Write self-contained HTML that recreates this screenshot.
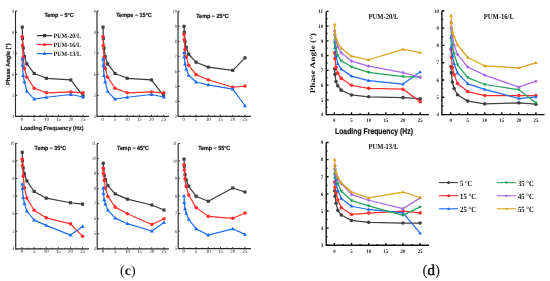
<!DOCTYPE html><html><head><meta charset="utf-8"><style>html,body{margin:0;padding:0;background:#fff;}svg{display:block;will-change:transform;}</style></head><body><svg width="550" height="281" viewBox="0 0 550 281" font-family='"Liberation Serif", serif' fill="#111" text-rendering="geometricPrecision">
<rect width="550" height="281" fill="#fff"/>
<path d="M15.5 11.1V116.4H89" fill="none" stroke="#2a2a2a" stroke-width="1.15"/>
<path d="M15.5 116.4h1.6M15.5 95.34h1.6M15.5 74.28h1.6M15.5 53.22h1.6M15.5 32.16h1.6M15.5 11.1h1.6M22 116.4v-1.6M28.1 116.4v-1M34.2 116.4v-1.6M40.3 116.4v-1M46.4 116.4v-1.6M52.5 116.4v-1M58.6 116.4v-1.6M64.7 116.4v-1M70.8 116.4v-1.6M76.9 116.4v-1M83 116.4v-1.6" fill="none" stroke="#2a2a2a" stroke-width="1.0"/>
<text x="14.1" y="118.05" text-anchor="end" font-size="5.0" font-weight="normal" textLength="1.9" lengthAdjust="spacingAndGlyphs">4</text>
<text x="14.1" y="96.99" text-anchor="end" font-size="5.0" font-weight="normal" textLength="1.9" lengthAdjust="spacingAndGlyphs">5</text>
<text x="14.1" y="75.93" text-anchor="end" font-size="5.0" font-weight="normal" textLength="1.9" lengthAdjust="spacingAndGlyphs">6</text>
<text x="14.1" y="54.87" text-anchor="end" font-size="5.0" font-weight="normal" textLength="1.9" lengthAdjust="spacingAndGlyphs">7</text>
<text x="14.1" y="33.81" text-anchor="end" font-size="5.0" font-weight="normal" textLength="1.9" lengthAdjust="spacingAndGlyphs">8</text>
<text x="14.1" y="12.75" text-anchor="end" font-size="5.0" font-weight="normal" textLength="1.9" lengthAdjust="spacingAndGlyphs">9</text>
<text x="22" y="121" text-anchor="middle" font-size="5.0" font-weight="normal" textLength="2.4" lengthAdjust="spacingAndGlyphs">0</text>
<text x="34.2" y="121" text-anchor="middle" font-size="5.0" font-weight="normal" textLength="2.4" lengthAdjust="spacingAndGlyphs">5</text>
<text x="46.4" y="121" text-anchor="middle" font-size="5.0" font-weight="normal" textLength="4.8" lengthAdjust="spacingAndGlyphs">10</text>
<text x="58.6" y="121" text-anchor="middle" font-size="5.0" font-weight="normal" textLength="4.8" lengthAdjust="spacingAndGlyphs">15</text>
<text x="70.8" y="121" text-anchor="middle" font-size="5.0" font-weight="normal" textLength="4.8" lengthAdjust="spacingAndGlyphs">20</text>
<text x="83" y="121" text-anchor="middle" font-size="5.0" font-weight="normal" textLength="4.8" lengthAdjust="spacingAndGlyphs">25</text>
<path d="M22.24 27.11L22.49 38.48L23.22 47.95L24.44 56.59L26.88 63.96L34.2 73.44L46.4 78.28L70.8 79.97L83 95.76" fill="none" stroke="#3a3a3a" stroke-width="1.2" stroke-linejoin="round"/>
<rect x="20.69" y="25.56" width="3.1" height="3.1" fill="#3a3a3a"/>
<rect x="20.94" y="36.93" width="3.1" height="3.1" fill="#3a3a3a"/>
<rect x="21.67" y="46.41" width="3.1" height="3.1" fill="#3a3a3a"/>
<rect x="22.89" y="55.04" width="3.1" height="3.1" fill="#3a3a3a"/>
<rect x="25.33" y="62.41" width="3.1" height="3.1" fill="#3a3a3a"/>
<rect x="32.65" y="71.89" width="3.1" height="3.1" fill="#3a3a3a"/>
<rect x="44.85" y="76.73" width="3.1" height="3.1" fill="#3a3a3a"/>
<rect x="69.25" y="78.42" width="3.1" height="3.1" fill="#3a3a3a"/>
<rect x="81.45" y="94.21" width="3.1" height="3.1" fill="#3a3a3a"/>
<path d="M22.24 36.58L22.49 45.64L23.22 57.43L24.44 68.38L26.88 77.23L34.2 88.18L46.4 92.81L70.8 91.97L83 92.81" fill="none" stroke="#ff2e2e" stroke-width="1.2" stroke-linejoin="round"/>
<circle cx="22.24" cy="36.58" r="1.8" fill="#ff2e2e"/>
<circle cx="22.49" cy="45.64" r="1.8" fill="#ff2e2e"/>
<circle cx="23.22" cy="57.43" r="1.8" fill="#ff2e2e"/>
<circle cx="24.44" cy="68.38" r="1.8" fill="#ff2e2e"/>
<circle cx="26.88" cy="77.23" r="1.8" fill="#ff2e2e"/>
<circle cx="34.2" cy="88.18" r="1.8" fill="#ff2e2e"/>
<circle cx="46.4" cy="92.81" r="1.8" fill="#ff2e2e"/>
<circle cx="70.8" cy="91.97" r="1.8" fill="#ff2e2e"/>
<circle cx="83" cy="92.81" r="1.8" fill="#ff2e2e"/>
<path d="M22.24 59.12L22.49 65.43L23.22 75.54L24.44 81.86L26.88 91.34L34.2 99.13L46.4 97.24L70.8 94.5L83 97.02" fill="none" stroke="#1d6cf0" stroke-width="1.2" stroke-linejoin="round"/>
<path d="M22.24 56.96L24.24 60.56L20.24 60.56Z" fill="#1d6cf0"/>
<path d="M22.49 63.27L24.49 66.87L20.49 66.87Z" fill="#1d6cf0"/>
<path d="M23.22 73.38L25.22 76.98L21.22 76.98Z" fill="#1d6cf0"/>
<path d="M24.44 79.7L26.44 83.3L22.44 83.3Z" fill="#1d6cf0"/>
<path d="M26.88 89.18L28.88 92.78L24.88 92.78Z" fill="#1d6cf0"/>
<path d="M34.2 96.97L36.2 100.57L32.2 100.57Z" fill="#1d6cf0"/>
<path d="M46.4 95.08L48.4 98.68L44.4 98.68Z" fill="#1d6cf0"/>
<path d="M70.8 92.34L72.8 95.94L68.8 95.94Z" fill="#1d6cf0"/>
<path d="M83 94.86L85 98.46L81 98.46Z" fill="#1d6cf0"/>
<text x="44.4" y="17.3" font-family='"Liberation Sans", sans-serif' font-size="5.9" font-weight="bold" stroke="#111" stroke-width="0.18" textLength="29.2" lengthAdjust="spacingAndGlyphs">Temp − 5°C</text>
<path d="M97 11.1V116.4H169" fill="none" stroke="#2a2a2a" stroke-width="1.15"/>
<path d="M97 116.4h1.6M97 95.34h1.6M97 74.28h1.6M97 53.22h1.6M97 32.16h1.6M97 11.1h1.6M102.8 116.4v-1.6M108.89 116.4v-1M114.98 116.4v-1.6M121.07 116.4v-1M127.16 116.4v-1.6M133.25 116.4v-1M139.34 116.4v-1.6M145.43 116.4v-1M151.52 116.4v-1.6M157.61 116.4v-1M163.7 116.4v-1.6" fill="none" stroke="#2a2a2a" stroke-width="1.0"/>
<text x="95.6" y="118.05" text-anchor="end" font-size="5.0" font-weight="normal" textLength="1.9" lengthAdjust="spacingAndGlyphs">4</text>
<text x="95.6" y="96.99" text-anchor="end" font-size="5.0" font-weight="normal" textLength="1.9" lengthAdjust="spacingAndGlyphs">5</text>
<text x="95.6" y="75.93" text-anchor="end" font-size="5.0" font-weight="normal" textLength="1.9" lengthAdjust="spacingAndGlyphs">6</text>
<text x="95.6" y="54.87" text-anchor="end" font-size="5.0" font-weight="normal" textLength="1.9" lengthAdjust="spacingAndGlyphs">7</text>
<text x="95.6" y="33.81" text-anchor="end" font-size="5.0" font-weight="normal" textLength="1.9" lengthAdjust="spacingAndGlyphs">8</text>
<text x="95.6" y="12.75" text-anchor="end" font-size="5.0" font-weight="normal" textLength="1.9" lengthAdjust="spacingAndGlyphs">9</text>
<text x="102.8" y="121" text-anchor="middle" font-size="5.0" font-weight="normal" textLength="2.4" lengthAdjust="spacingAndGlyphs">0</text>
<text x="114.98" y="121" text-anchor="middle" font-size="5.0" font-weight="normal" textLength="2.4" lengthAdjust="spacingAndGlyphs">5</text>
<text x="127.16" y="121" text-anchor="middle" font-size="5.0" font-weight="normal" textLength="4.8" lengthAdjust="spacingAndGlyphs">10</text>
<text x="139.34" y="121" text-anchor="middle" font-size="5.0" font-weight="normal" textLength="4.8" lengthAdjust="spacingAndGlyphs">15</text>
<text x="151.52" y="121" text-anchor="middle" font-size="5.0" font-weight="normal" textLength="4.8" lengthAdjust="spacingAndGlyphs">20</text>
<text x="163.7" y="121" text-anchor="middle" font-size="5.0" font-weight="normal" textLength="4.8" lengthAdjust="spacingAndGlyphs">25</text>
<path d="M103.04 27.11L103.29 38.48L104.02 47.95L105.24 56.59L107.67 63.96L114.98 73.44L127.16 78.28L151.52 79.97L163.7 95.76" fill="none" stroke="#3a3a3a" stroke-width="1.2" stroke-linejoin="round"/>
<rect x="101.49" y="25.56" width="3.1" height="3.1" fill="#3a3a3a"/>
<rect x="101.74" y="36.93" width="3.1" height="3.1" fill="#3a3a3a"/>
<rect x="102.47" y="46.41" width="3.1" height="3.1" fill="#3a3a3a"/>
<rect x="103.69" y="55.04" width="3.1" height="3.1" fill="#3a3a3a"/>
<rect x="106.12" y="62.41" width="3.1" height="3.1" fill="#3a3a3a"/>
<rect x="113.43" y="71.89" width="3.1" height="3.1" fill="#3a3a3a"/>
<rect x="125.61" y="76.73" width="3.1" height="3.1" fill="#3a3a3a"/>
<rect x="149.97" y="78.42" width="3.1" height="3.1" fill="#3a3a3a"/>
<rect x="162.15" y="94.21" width="3.1" height="3.1" fill="#3a3a3a"/>
<path d="M103.04 36.58L103.29 45.64L104.02 57.43L105.24 68.38L107.67 77.23L114.98 88.18L127.16 92.81L151.52 91.97L163.7 92.81" fill="none" stroke="#ff2e2e" stroke-width="1.2" stroke-linejoin="round"/>
<circle cx="103.04" cy="36.58" r="1.8" fill="#ff2e2e"/>
<circle cx="103.29" cy="45.64" r="1.8" fill="#ff2e2e"/>
<circle cx="104.02" cy="57.43" r="1.8" fill="#ff2e2e"/>
<circle cx="105.24" cy="68.38" r="1.8" fill="#ff2e2e"/>
<circle cx="107.67" cy="77.23" r="1.8" fill="#ff2e2e"/>
<circle cx="114.98" cy="88.18" r="1.8" fill="#ff2e2e"/>
<circle cx="127.16" cy="92.81" r="1.8" fill="#ff2e2e"/>
<circle cx="151.52" cy="91.97" r="1.8" fill="#ff2e2e"/>
<circle cx="163.7" cy="92.81" r="1.8" fill="#ff2e2e"/>
<path d="M103.04 59.12L103.29 65.43L104.02 75.54L105.24 81.86L107.67 91.34L114.98 99.13L127.16 97.24L151.52 94.5L163.7 97.02" fill="none" stroke="#1d6cf0" stroke-width="1.2" stroke-linejoin="round"/>
<path d="M103.04 56.96L105.04 60.56L101.04 60.56Z" fill="#1d6cf0"/>
<path d="M103.29 63.27L105.29 66.87L101.29 66.87Z" fill="#1d6cf0"/>
<path d="M104.02 73.38L106.02 76.98L102.02 76.98Z" fill="#1d6cf0"/>
<path d="M105.24 79.7L107.24 83.3L103.24 83.3Z" fill="#1d6cf0"/>
<path d="M107.67 89.18L109.67 92.78L105.67 92.78Z" fill="#1d6cf0"/>
<path d="M114.98 96.97L116.98 100.57L112.98 100.57Z" fill="#1d6cf0"/>
<path d="M127.16 95.08L129.16 98.68L125.16 98.68Z" fill="#1d6cf0"/>
<path d="M151.52 92.34L153.52 95.94L149.52 95.94Z" fill="#1d6cf0"/>
<path d="M163.7 94.86L165.7 98.46L161.7 98.46Z" fill="#1d6cf0"/>
<text x="116.2" y="17.3" font-family='"Liberation Sans", sans-serif' font-size="5.9" font-weight="bold" stroke="#111" stroke-width="0.18" textLength="35.6" lengthAdjust="spacingAndGlyphs">Tempe − 15°C</text>
<path d="M178 11.3V116.4H251" fill="none" stroke="#2a2a2a" stroke-width="1.15"/>
<path d="M178 116.4h1.6M178 101.39h1.6M178 86.37h1.6M178 71.36h1.6M178 56.34h1.6M178 41.33h1.6M178 26.31h1.6M178 11.3h1.6M183.8 116.4v-1.6M189.92 116.4v-1M196.04 116.4v-1.6M202.16 116.4v-1M208.28 116.4v-1.6M214.4 116.4v-1M220.52 116.4v-1.6M226.64 116.4v-1M232.76 116.4v-1.6M238.88 116.4v-1M245 116.4v-1.6" fill="none" stroke="#2a2a2a" stroke-width="1.0"/>
<text x="176.6" y="118.05" text-anchor="end" font-size="5.0" font-weight="normal" textLength="1.9" lengthAdjust="spacingAndGlyphs">3</text>
<text x="176.6" y="103.04" text-anchor="end" font-size="5.0" font-weight="normal" textLength="1.9" lengthAdjust="spacingAndGlyphs">4</text>
<text x="176.6" y="88.02" text-anchor="end" font-size="5.0" font-weight="normal" textLength="1.9" lengthAdjust="spacingAndGlyphs">5</text>
<text x="176.6" y="73.01" text-anchor="end" font-size="5.0" font-weight="normal" textLength="1.9" lengthAdjust="spacingAndGlyphs">6</text>
<text x="176.6" y="57.99" text-anchor="end" font-size="5.0" font-weight="normal" textLength="1.9" lengthAdjust="spacingAndGlyphs">7</text>
<text x="176.6" y="42.98" text-anchor="end" font-size="5.0" font-weight="normal" textLength="1.9" lengthAdjust="spacingAndGlyphs">8</text>
<text x="176.6" y="27.96" text-anchor="end" font-size="5.0" font-weight="normal" textLength="1.9" lengthAdjust="spacingAndGlyphs">9</text>
<text x="176.6" y="12.95" text-anchor="end" font-size="5.0" font-weight="normal" textLength="3.8" lengthAdjust="spacingAndGlyphs">10</text>
<text x="183.8" y="121" text-anchor="middle" font-size="5.0" font-weight="normal" textLength="2.4" lengthAdjust="spacingAndGlyphs">0</text>
<text x="196.04" y="121" text-anchor="middle" font-size="5.0" font-weight="normal" textLength="2.4" lengthAdjust="spacingAndGlyphs">5</text>
<text x="208.28" y="121" text-anchor="middle" font-size="5.0" font-weight="normal" textLength="4.8" lengthAdjust="spacingAndGlyphs">10</text>
<text x="220.52" y="121" text-anchor="middle" font-size="5.0" font-weight="normal" textLength="4.8" lengthAdjust="spacingAndGlyphs">15</text>
<text x="232.76" y="121" text-anchor="middle" font-size="5.0" font-weight="normal" textLength="4.8" lengthAdjust="spacingAndGlyphs">20</text>
<text x="245" y="121" text-anchor="middle" font-size="5.0" font-weight="normal" textLength="4.8" lengthAdjust="spacingAndGlyphs">25</text>
<path d="M184.04 26.31L184.29 32.32L185.02 41.33L186.25 47.48L188.7 54.24L196.04 62.2L208.28 67.15L232.76 70.31L245 57.84" fill="none" stroke="#3a3a3a" stroke-width="1.2" stroke-linejoin="round"/>
<rect x="182.49" y="24.76" width="3.1" height="3.1" fill="#3a3a3a"/>
<rect x="182.74" y="30.77" width="3.1" height="3.1" fill="#3a3a3a"/>
<rect x="183.47" y="39.78" width="3.1" height="3.1" fill="#3a3a3a"/>
<rect x="184.7" y="45.93" width="3.1" height="3.1" fill="#3a3a3a"/>
<rect x="187.15" y="52.69" width="3.1" height="3.1" fill="#3a3a3a"/>
<rect x="194.49" y="60.65" width="3.1" height="3.1" fill="#3a3a3a"/>
<rect x="206.73" y="65.6" width="3.1" height="3.1" fill="#3a3a3a"/>
<rect x="231.21" y="68.76" width="3.1" height="3.1" fill="#3a3a3a"/>
<rect x="243.45" y="56.29" width="3.1" height="3.1" fill="#3a3a3a"/>
<path d="M184.04 34.27L184.29 39.83L185.02 49.59L186.25 56.94L188.7 65.35L196.04 74.66L208.28 79.77L232.76 87.27L245 86.07" fill="none" stroke="#ff2e2e" stroke-width="1.2" stroke-linejoin="round"/>
<circle cx="184.04" cy="34.27" r="1.8" fill="#ff2e2e"/>
<circle cx="184.29" cy="39.83" r="1.8" fill="#ff2e2e"/>
<circle cx="185.02" cy="49.59" r="1.8" fill="#ff2e2e"/>
<circle cx="186.25" cy="56.94" r="1.8" fill="#ff2e2e"/>
<circle cx="188.7" cy="65.35" r="1.8" fill="#ff2e2e"/>
<circle cx="196.04" cy="74.66" r="1.8" fill="#ff2e2e"/>
<circle cx="208.28" cy="79.77" r="1.8" fill="#ff2e2e"/>
<circle cx="232.76" cy="87.27" r="1.8" fill="#ff2e2e"/>
<circle cx="245" cy="86.07" r="1.8" fill="#ff2e2e"/>
<path d="M184.04 52.59L184.29 57.09L185.02 64.15L186.25 69.1L188.7 75.41L196.04 82.02L208.28 84.87L232.76 89.07L245 105.74" fill="none" stroke="#1d6cf0" stroke-width="1.2" stroke-linejoin="round"/>
<path d="M184.04 50.43L186.04 54.03L182.04 54.03Z" fill="#1d6cf0"/>
<path d="M184.29 54.93L186.29 58.53L182.29 58.53Z" fill="#1d6cf0"/>
<path d="M185.02 61.99L187.02 65.59L183.02 65.59Z" fill="#1d6cf0"/>
<path d="M186.25 66.94L188.25 70.54L184.25 70.54Z" fill="#1d6cf0"/>
<path d="M188.7 73.25L190.7 76.85L186.7 76.85Z" fill="#1d6cf0"/>
<path d="M196.04 79.86L198.04 83.46L194.04 83.46Z" fill="#1d6cf0"/>
<path d="M208.28 82.71L210.28 86.31L206.28 86.31Z" fill="#1d6cf0"/>
<path d="M232.76 86.91L234.76 90.51L230.76 90.51Z" fill="#1d6cf0"/>
<path d="M245 103.58L247 107.18L243 107.18Z" fill="#1d6cf0"/>
<text x="196.2" y="17.5" font-family='"Liberation Sans", sans-serif' font-size="5.9" font-weight="bold" stroke="#111" stroke-width="0.18" textLength="32.6" lengthAdjust="spacingAndGlyphs">Temp − 25°C</text>
<path d="M15.7 143.3V248.8H89" fill="none" stroke="#2a2a2a" stroke-width="1.15"/>
<path d="M15.7 248.8h1.6M15.7 231.22h1.6M15.7 213.63h1.6M15.7 196.05h1.6M15.7 178.47h1.6M15.7 160.88h1.6M15.7 143.3h1.6M22 248.8v-1.6M28.06 248.8v-1M34.12 248.8v-1.6M40.18 248.8v-1M46.24 248.8v-1.6M52.3 248.8v-1M58.36 248.8v-1.6M64.42 248.8v-1M70.48 248.8v-1.6M76.54 248.8v-1M82.6 248.8v-1.6" fill="none" stroke="#2a2a2a" stroke-width="1.0"/>
<text x="14.3" y="250.45" text-anchor="end" font-size="5.0" font-weight="normal" textLength="1.9" lengthAdjust="spacingAndGlyphs">4</text>
<text x="14.3" y="232.87" text-anchor="end" font-size="5.0" font-weight="normal" textLength="1.9" lengthAdjust="spacingAndGlyphs">5</text>
<text x="14.3" y="215.28" text-anchor="end" font-size="5.0" font-weight="normal" textLength="1.9" lengthAdjust="spacingAndGlyphs">6</text>
<text x="14.3" y="197.7" text-anchor="end" font-size="5.0" font-weight="normal" textLength="1.9" lengthAdjust="spacingAndGlyphs">7</text>
<text x="14.3" y="180.12" text-anchor="end" font-size="5.0" font-weight="normal" textLength="1.9" lengthAdjust="spacingAndGlyphs">8</text>
<text x="14.3" y="162.53" text-anchor="end" font-size="5.0" font-weight="normal" textLength="1.9" lengthAdjust="spacingAndGlyphs">9</text>
<text x="14.3" y="144.95" text-anchor="end" font-size="5.0" font-weight="normal" textLength="3.8" lengthAdjust="spacingAndGlyphs">10</text>
<text x="22" y="253.4" text-anchor="middle" font-size="5.0" font-weight="normal" textLength="2.4" lengthAdjust="spacingAndGlyphs">0</text>
<text x="34.12" y="253.4" text-anchor="middle" font-size="5.0" font-weight="normal" textLength="2.4" lengthAdjust="spacingAndGlyphs">5</text>
<text x="46.24" y="253.4" text-anchor="middle" font-size="5.0" font-weight="normal" textLength="4.8" lengthAdjust="spacingAndGlyphs">10</text>
<text x="58.36" y="253.4" text-anchor="middle" font-size="5.0" font-weight="normal" textLength="4.8" lengthAdjust="spacingAndGlyphs">15</text>
<text x="70.48" y="253.4" text-anchor="middle" font-size="5.0" font-weight="normal" textLength="4.8" lengthAdjust="spacingAndGlyphs">20</text>
<text x="82.6" y="253.4" text-anchor="middle" font-size="5.0" font-weight="normal" textLength="4.8" lengthAdjust="spacingAndGlyphs">25</text>
<path d="M22.24 152.27L22.48 160.88L23.21 167.92L24.42 173.9L26.85 180.93L34.12 191.48L46.24 198.16L70.48 202.73L82.6 204.14" fill="none" stroke="#3a3a3a" stroke-width="1.2" stroke-linejoin="round"/>
<rect x="20.69" y="150.72" width="3.1" height="3.1" fill="#3a3a3a"/>
<rect x="20.93" y="159.33" width="3.1" height="3.1" fill="#3a3a3a"/>
<rect x="21.66" y="166.37" width="3.1" height="3.1" fill="#3a3a3a"/>
<rect x="22.87" y="172.35" width="3.1" height="3.1" fill="#3a3a3a"/>
<rect x="25.3" y="179.38" width="3.1" height="3.1" fill="#3a3a3a"/>
<rect x="32.57" y="189.93" width="3.1" height="3.1" fill="#3a3a3a"/>
<rect x="44.69" y="196.61" width="3.1" height="3.1" fill="#3a3a3a"/>
<rect x="68.93" y="201.18" width="3.1" height="3.1" fill="#3a3a3a"/>
<rect x="81.05" y="202.59" width="3.1" height="3.1" fill="#3a3a3a"/>
<path d="M22.24 159.13L22.48 165.81L23.21 176.18L24.42 187.79L26.85 197.98L34.12 210.29L46.24 217.85L70.48 223.83L82.6 236.32" fill="none" stroke="#ff2e2e" stroke-width="1.2" stroke-linejoin="round"/>
<circle cx="22.24" cy="159.13" r="1.8" fill="#ff2e2e"/>
<circle cx="22.48" cy="165.81" r="1.8" fill="#ff2e2e"/>
<circle cx="23.21" cy="176.18" r="1.8" fill="#ff2e2e"/>
<circle cx="24.42" cy="187.79" r="1.8" fill="#ff2e2e"/>
<circle cx="26.85" cy="197.98" r="1.8" fill="#ff2e2e"/>
<circle cx="34.12" cy="210.29" r="1.8" fill="#ff2e2e"/>
<circle cx="46.24" cy="217.85" r="1.8" fill="#ff2e2e"/>
<circle cx="70.48" cy="223.83" r="1.8" fill="#ff2e2e"/>
<circle cx="82.6" cy="236.32" r="1.8" fill="#ff2e2e"/>
<path d="M22.24 184.09L22.48 188.67L23.21 197.46L24.42 203.61L26.85 211L34.12 220.14L46.24 225.41L70.48 235.09L82.6 226.47" fill="none" stroke="#1d6cf0" stroke-width="1.2" stroke-linejoin="round"/>
<path d="M22.24 181.93L24.24 185.53L20.24 185.53Z" fill="#1d6cf0"/>
<path d="M22.48 186.51L24.48 190.11L20.48 190.11Z" fill="#1d6cf0"/>
<path d="M23.21 195.3L25.21 198.9L21.21 198.9Z" fill="#1d6cf0"/>
<path d="M24.42 201.45L26.42 205.05L22.42 205.05Z" fill="#1d6cf0"/>
<path d="M26.85 208.84L28.85 212.44L24.85 212.44Z" fill="#1d6cf0"/>
<path d="M34.12 217.98L36.12 221.58L32.12 221.58Z" fill="#1d6cf0"/>
<path d="M46.24 223.25L48.24 226.85L44.24 226.85Z" fill="#1d6cf0"/>
<path d="M70.48 232.93L72.48 236.53L68.48 236.53Z" fill="#1d6cf0"/>
<path d="M82.6 224.31L84.6 227.91L80.6 227.91Z" fill="#1d6cf0"/>
<text x="34.6" y="149.7" font-family='"Liberation Sans", sans-serif' font-size="5.9" font-weight="bold" stroke="#111" stroke-width="0.18" textLength="31.6" lengthAdjust="spacingAndGlyphs">Temp − 35°C</text>
<path d="M97.2 143.5V248.8H169" fill="none" stroke="#2a2a2a" stroke-width="1.15"/>
<path d="M97.2 248.8h1.6M97.2 233.76h1.6M97.2 218.71h1.6M97.2 203.67h1.6M97.2 188.63h1.6M97.2 173.59h1.6M97.2 158.54h1.6M97.2 143.5h1.6M103 248.8v-1.6M109.1 248.8v-1M115.2 248.8v-1.6M121.3 248.8v-1M127.4 248.8v-1.6M133.5 248.8v-1M139.6 248.8v-1.6M145.7 248.8v-1M151.8 248.8v-1.6M157.9 248.8v-1M164 248.8v-1.6" fill="none" stroke="#2a2a2a" stroke-width="1.0"/>
<text x="95.8" y="250.45" text-anchor="end" font-size="5.0" font-weight="normal" textLength="1.9" lengthAdjust="spacingAndGlyphs">4</text>
<text x="95.8" y="235.41" text-anchor="end" font-size="5.0" font-weight="normal" textLength="1.9" lengthAdjust="spacingAndGlyphs">5</text>
<text x="95.8" y="220.36" text-anchor="end" font-size="5.0" font-weight="normal" textLength="1.9" lengthAdjust="spacingAndGlyphs">6</text>
<text x="95.8" y="205.32" text-anchor="end" font-size="5.0" font-weight="normal" textLength="1.9" lengthAdjust="spacingAndGlyphs">7</text>
<text x="95.8" y="190.28" text-anchor="end" font-size="5.0" font-weight="normal" textLength="1.9" lengthAdjust="spacingAndGlyphs">8</text>
<text x="95.8" y="175.24" text-anchor="end" font-size="5.0" font-weight="normal" textLength="1.9" lengthAdjust="spacingAndGlyphs">9</text>
<text x="95.8" y="160.19" text-anchor="end" font-size="5.0" font-weight="normal" textLength="3.8" lengthAdjust="spacingAndGlyphs">10</text>
<text x="95.8" y="145.15" text-anchor="end" font-size="5.0" font-weight="normal" textLength="3.8" lengthAdjust="spacingAndGlyphs">11</text>
<text x="103" y="253.4" text-anchor="middle" font-size="5.0" font-weight="normal" textLength="2.4" lengthAdjust="spacingAndGlyphs">0</text>
<text x="115.2" y="253.4" text-anchor="middle" font-size="5.0" font-weight="normal" textLength="2.4" lengthAdjust="spacingAndGlyphs">5</text>
<text x="127.4" y="253.4" text-anchor="middle" font-size="5.0" font-weight="normal" textLength="4.8" lengthAdjust="spacingAndGlyphs">10</text>
<text x="139.6" y="253.4" text-anchor="middle" font-size="5.0" font-weight="normal" textLength="4.8" lengthAdjust="spacingAndGlyphs">15</text>
<text x="151.8" y="253.4" text-anchor="middle" font-size="5.0" font-weight="normal" textLength="4.8" lengthAdjust="spacingAndGlyphs">20</text>
<text x="164" y="253.4" text-anchor="middle" font-size="5.0" font-weight="normal" textLength="4.8" lengthAdjust="spacingAndGlyphs">25</text>
<path d="M103.24 163.21L103.49 169.07L104.22 175.24L105.44 179.6L107.88 185.62L115.2 193.89L127.4 199.16L151.8 205.03L164 209.99" fill="none" stroke="#3a3a3a" stroke-width="1.2" stroke-linejoin="round"/>
<rect x="101.69" y="161.66" width="3.1" height="3.1" fill="#3a3a3a"/>
<rect x="101.94" y="167.52" width="3.1" height="3.1" fill="#3a3a3a"/>
<rect x="102.67" y="173.69" width="3.1" height="3.1" fill="#3a3a3a"/>
<rect x="103.89" y="178.05" width="3.1" height="3.1" fill="#3a3a3a"/>
<rect x="106.33" y="184.07" width="3.1" height="3.1" fill="#3a3a3a"/>
<rect x="113.65" y="192.34" width="3.1" height="3.1" fill="#3a3a3a"/>
<rect x="125.85" y="197.61" width="3.1" height="3.1" fill="#3a3a3a"/>
<rect x="150.25" y="203.48" width="3.1" height="3.1" fill="#3a3a3a"/>
<rect x="162.45" y="208.44" width="3.1" height="3.1" fill="#3a3a3a"/>
<path d="M103.24 168.17L103.49 173.13L104.22 180.51L105.44 188.03L107.88 196.45L115.2 207.13L127.4 213.75L151.8 224.43L164 218.71" fill="none" stroke="#ff2e2e" stroke-width="1.2" stroke-linejoin="round"/>
<circle cx="103.24" cy="168.17" r="1.8" fill="#ff2e2e"/>
<circle cx="103.49" cy="173.13" r="1.8" fill="#ff2e2e"/>
<circle cx="104.22" cy="180.51" r="1.8" fill="#ff2e2e"/>
<circle cx="105.44" cy="188.03" r="1.8" fill="#ff2e2e"/>
<circle cx="107.88" cy="196.45" r="1.8" fill="#ff2e2e"/>
<circle cx="115.2" cy="207.13" r="1.8" fill="#ff2e2e"/>
<circle cx="127.4" cy="213.75" r="1.8" fill="#ff2e2e"/>
<circle cx="151.8" cy="224.43" r="1.8" fill="#ff2e2e"/>
<circle cx="164" cy="218.71" r="1.8" fill="#ff2e2e"/>
<path d="M103.24 188.03L103.49 193.59L104.22 199.76L105.44 204.12L107.88 210.14L115.2 218.11L127.4 223.68L151.8 231.05L164 222.48" fill="none" stroke="#1d6cf0" stroke-width="1.2" stroke-linejoin="round"/>
<path d="M103.24 185.87L105.24 189.47L101.24 189.47Z" fill="#1d6cf0"/>
<path d="M103.49 191.43L105.49 195.03L101.49 195.03Z" fill="#1d6cf0"/>
<path d="M104.22 197.6L106.22 201.2L102.22 201.2Z" fill="#1d6cf0"/>
<path d="M105.44 201.96L107.44 205.56L103.44 205.56Z" fill="#1d6cf0"/>
<path d="M107.88 207.98L109.88 211.58L105.88 211.58Z" fill="#1d6cf0"/>
<path d="M115.2 215.95L117.2 219.55L113.2 219.55Z" fill="#1d6cf0"/>
<path d="M127.4 221.52L129.4 225.12L125.4 225.12Z" fill="#1d6cf0"/>
<path d="M151.8 228.89L153.8 232.49L149.8 232.49Z" fill="#1d6cf0"/>
<path d="M164 220.32L166 223.92L162 223.92Z" fill="#1d6cf0"/>
<text x="117" y="149.7" font-family='"Liberation Sans", sans-serif' font-size="5.9" font-weight="bold" stroke="#111" stroke-width="0.18" textLength="32.0" lengthAdjust="spacingAndGlyphs">Temp − 45°C</text>
<path d="M178.2 143.5V248.6H251" fill="none" stroke="#2a2a2a" stroke-width="1.15"/>
<path d="M178.2 248.6h1.6M178.2 231.08h1.6M178.2 213.57h1.6M178.2 196.05h1.6M178.2 178.53h1.6M178.2 161.02h1.6M178.2 143.5h1.6M183.8 248.6v-1.6M189.92 248.6v-1M196.04 248.6v-1.6M202.16 248.6v-1M208.28 248.6v-1.6M214.4 248.6v-1M220.52 248.6v-1.6M226.64 248.6v-1M232.76 248.6v-1.6M238.88 248.6v-1M245 248.6v-1.6" fill="none" stroke="#2a2a2a" stroke-width="1.0"/>
<text x="176.8" y="250.25" text-anchor="end" font-size="5.0" font-weight="normal" textLength="1.9" lengthAdjust="spacingAndGlyphs">5</text>
<text x="176.8" y="232.73" text-anchor="end" font-size="5.0" font-weight="normal" textLength="1.9" lengthAdjust="spacingAndGlyphs">6</text>
<text x="176.8" y="215.22" text-anchor="end" font-size="5.0" font-weight="normal" textLength="1.9" lengthAdjust="spacingAndGlyphs">7</text>
<text x="176.8" y="197.7" text-anchor="end" font-size="5.0" font-weight="normal" textLength="1.9" lengthAdjust="spacingAndGlyphs">8</text>
<text x="176.8" y="180.18" text-anchor="end" font-size="5.0" font-weight="normal" textLength="1.9" lengthAdjust="spacingAndGlyphs">9</text>
<text x="176.8" y="162.67" text-anchor="end" font-size="5.0" font-weight="normal" textLength="3.8" lengthAdjust="spacingAndGlyphs">10</text>
<text x="176.8" y="145.15" text-anchor="end" font-size="5.0" font-weight="normal" textLength="3.8" lengthAdjust="spacingAndGlyphs">11</text>
<text x="183.8" y="253.2" text-anchor="middle" font-size="5.0" font-weight="normal" textLength="2.4" lengthAdjust="spacingAndGlyphs">0</text>
<text x="196.04" y="253.2" text-anchor="middle" font-size="5.0" font-weight="normal" textLength="2.4" lengthAdjust="spacingAndGlyphs">5</text>
<text x="208.28" y="253.2" text-anchor="middle" font-size="5.0" font-weight="normal" textLength="4.8" lengthAdjust="spacingAndGlyphs">10</text>
<text x="220.52" y="253.2" text-anchor="middle" font-size="5.0" font-weight="normal" textLength="4.8" lengthAdjust="spacingAndGlyphs">15</text>
<text x="232.76" y="253.2" text-anchor="middle" font-size="5.0" font-weight="normal" textLength="4.8" lengthAdjust="spacingAndGlyphs">20</text>
<text x="245" y="253.2" text-anchor="middle" font-size="5.0" font-weight="normal" textLength="4.8" lengthAdjust="spacingAndGlyphs">25</text>
<path d="M184.04 159.09L184.29 166.27L185.02 174.5L186.25 180.11L188.7 186.24L196.04 196.23L208.28 201.31L232.76 187.99L245 192.02" fill="none" stroke="#3a3a3a" stroke-width="1.2" stroke-linejoin="round"/>
<rect x="182.49" y="157.54" width="3.1" height="3.1" fill="#3a3a3a"/>
<rect x="182.74" y="164.72" width="3.1" height="3.1" fill="#3a3a3a"/>
<rect x="183.47" y="172.95" width="3.1" height="3.1" fill="#3a3a3a"/>
<rect x="184.7" y="178.56" width="3.1" height="3.1" fill="#3a3a3a"/>
<rect x="187.15" y="184.69" width="3.1" height="3.1" fill="#3a3a3a"/>
<rect x="194.49" y="194.68" width="3.1" height="3.1" fill="#3a3a3a"/>
<rect x="206.73" y="199.75" width="3.1" height="3.1" fill="#3a3a3a"/>
<rect x="231.21" y="186.44" width="3.1" height="3.1" fill="#3a3a3a"/>
<rect x="243.45" y="190.47" width="3.1" height="3.1" fill="#3a3a3a"/>
<path d="M184.04 164.52L184.29 169.95L185.02 179.06L186.25 186.42L188.7 195L196.04 207.61L208.28 216.37L232.76 218.3L245 213.04" fill="none" stroke="#ff2e2e" stroke-width="1.2" stroke-linejoin="round"/>
<circle cx="184.04" cy="164.52" r="1.8" fill="#ff2e2e"/>
<circle cx="184.29" cy="169.95" r="1.8" fill="#ff2e2e"/>
<circle cx="185.02" cy="179.06" r="1.8" fill="#ff2e2e"/>
<circle cx="186.25" cy="186.42" r="1.8" fill="#ff2e2e"/>
<circle cx="188.7" cy="195" r="1.8" fill="#ff2e2e"/>
<circle cx="196.04" cy="207.61" r="1.8" fill="#ff2e2e"/>
<circle cx="208.28" cy="216.37" r="1.8" fill="#ff2e2e"/>
<circle cx="232.76" cy="218.3" r="1.8" fill="#ff2e2e"/>
<circle cx="245" cy="213.04" r="1.8" fill="#ff2e2e"/>
<path d="M184.04 195.87L184.29 202.53L185.02 208.84L186.25 213.39L188.7 219.35L196.04 228.81L208.28 235.11L232.76 228.81L245 234.41" fill="none" stroke="#1d6cf0" stroke-width="1.2" stroke-linejoin="round"/>
<path d="M184.04 193.71L186.04 197.31L182.04 197.31Z" fill="#1d6cf0"/>
<path d="M184.29 200.37L186.29 203.97L182.29 203.97Z" fill="#1d6cf0"/>
<path d="M185.02 206.68L187.02 210.28L183.02 210.28Z" fill="#1d6cf0"/>
<path d="M186.25 211.23L188.25 214.83L184.25 214.83Z" fill="#1d6cf0"/>
<path d="M188.7 217.19L190.7 220.79L186.7 220.79Z" fill="#1d6cf0"/>
<path d="M196.04 226.65L198.04 230.25L194.04 230.25Z" fill="#1d6cf0"/>
<path d="M208.28 232.95L210.28 236.55L206.28 236.55Z" fill="#1d6cf0"/>
<path d="M232.76 226.65L234.76 230.25L230.76 230.25Z" fill="#1d6cf0"/>
<path d="M245 232.25L247 235.85L243 235.85Z" fill="#1d6cf0"/>
<text x="198.15" y="149.9" font-family='"Liberation Sans", sans-serif' font-size="5.9" font-weight="bold" stroke="#111" stroke-width="0.18" textLength="32.1" lengthAdjust="spacingAndGlyphs">Temp − 55°C</text>
<path d="M37 35.6H52.3" stroke="#3a3a3a" stroke-width="1.2"/>
<rect x="42.95" y="33.95" width="3.3" height="3.3" fill="#3a3a3a"/>
<text x="53.6" y="37.8" font-size="6.6" font-weight="bold" textLength="27.3" lengthAdjust="spacingAndGlyphs">PUM-20/L</text>
<path d="M37 44.6H52.3" stroke="#ff2e2e" stroke-width="1.2"/>
<circle cx="44.6" cy="44.6" r="1.65" fill="#ff2e2e"/>
<text x="53.6" y="46.8" font-size="6.6" font-weight="bold" textLength="27.3" lengthAdjust="spacingAndGlyphs">PUM-16/L</text>
<path d="M37 53.6H52.3" stroke="#1d6cf0" stroke-width="1.2"/>
<path d="M44.6 51.6L46.45 54.93L42.75 54.93Z" fill="#1d6cf0"/>
<text x="53.6" y="55.8" font-size="6.6" font-weight="bold" textLength="27.3" lengthAdjust="spacingAndGlyphs">PUM-13/L</text>
<text transform="translate(10.2 64.2) rotate(-90)" text-anchor="middle" font-family='"Liberation Sans", sans-serif' font-size="5.8" font-weight="bold" stroke="#111" stroke-width="0.15" textLength="41.8" lengthAdjust="spacingAndGlyphs">Phase Angle (°)</text>
<text x="20.5" y="129.6" font-family='"Liberation Sans", sans-serif' font-size="5.8" font-weight="bold" stroke="#111" stroke-width="0.15" textLength="63" lengthAdjust="spacingAndGlyphs">Loading Frequency (Hz)</text>
<text x="120" y="275.3" font-size="14">(<tspan font-weight="bold">c</tspan>)</text>
<path d="M326.2 11.4V114.6H429" fill="none" stroke="#111" stroke-width="1.4"/>
<path d="M326.2 114.6h2.4M326.2 107.23h1.3M326.2 99.86h2.4M326.2 92.49h1.3M326.2 85.11h2.4M326.2 77.74h1.3M326.2 70.37h2.4M326.2 63h1.3M326.2 55.63h2.4M326.2 48.26h1.3M326.2 40.89h2.4M326.2 33.51h1.3M326.2 26.14h2.4M326.2 18.77h1.3M326.2 11.4h2.4M334.3 114.6v-2.4M342.89 114.6v-1.3M351.48 114.6v-2.4M360.07 114.6v-1.3M368.66 114.6v-2.4M377.25 114.6v-1.3M385.84 114.6v-2.4M394.43 114.6v-1.3M403.02 114.6v-2.4M411.61 114.6v-1.3M420.2 114.6v-2.4" fill="none" stroke="#111" stroke-width="1.4"/>
<text x="323.2" y="116.35" text-anchor="end" font-size="5.3" font-weight="bold" textLength="2.45" lengthAdjust="spacingAndGlyphs">4</text>
<text x="323.2" y="101.61" text-anchor="end" font-size="5.3" font-weight="bold" textLength="2.45" lengthAdjust="spacingAndGlyphs">5</text>
<text x="323.2" y="86.86" text-anchor="end" font-size="5.3" font-weight="bold" textLength="2.45" lengthAdjust="spacingAndGlyphs">6</text>
<text x="323.2" y="72.12" text-anchor="end" font-size="5.3" font-weight="bold" textLength="2.45" lengthAdjust="spacingAndGlyphs">7</text>
<text x="323.2" y="57.38" text-anchor="end" font-size="5.3" font-weight="bold" textLength="2.45" lengthAdjust="spacingAndGlyphs">8</text>
<text x="323.2" y="42.63" text-anchor="end" font-size="5.3" font-weight="bold" textLength="2.45" lengthAdjust="spacingAndGlyphs">9</text>
<text x="323.2" y="27.89" text-anchor="end" font-size="5.3" font-weight="bold" textLength="4.9" lengthAdjust="spacingAndGlyphs">10</text>
<text x="323.2" y="13.15" text-anchor="end" font-size="5.3" font-weight="bold" textLength="4.9" lengthAdjust="spacingAndGlyphs">11</text>
<text x="334.3" y="122.2" text-anchor="middle" font-size="5.3" font-weight="bold" textLength="2.45" lengthAdjust="spacingAndGlyphs">0</text>
<text x="351.48" y="122.2" text-anchor="middle" font-size="5.3" font-weight="bold" textLength="2.45" lengthAdjust="spacingAndGlyphs">5</text>
<text x="368.66" y="122.2" text-anchor="middle" font-size="5.3" font-weight="bold" textLength="4.9" lengthAdjust="spacingAndGlyphs">10</text>
<text x="385.84" y="122.2" text-anchor="middle" font-size="5.3" font-weight="bold" textLength="4.9" lengthAdjust="spacingAndGlyphs">15</text>
<text x="403.02" y="122.2" text-anchor="middle" font-size="5.3" font-weight="bold" textLength="4.9" lengthAdjust="spacingAndGlyphs">20</text>
<text x="420.2" y="122.2" text-anchor="middle" font-size="5.3" font-weight="bold" textLength="4.9" lengthAdjust="spacingAndGlyphs">25</text>
<path d="M334.64 68.9L334.99 74.35L336.02 81.58L337.74 85.7L341.17 90.13L351.48 94.99L368.66 96.76L403.02 97.65L420.2 98.68" fill="none" stroke="#404040" stroke-width="1.25" stroke-linejoin="round"/>
<circle cx="334.64" cy="68.9" r="1.8" fill="#404040"/>
<circle cx="334.99" cy="74.35" r="1.8" fill="#404040"/>
<circle cx="336.02" cy="81.58" r="1.8" fill="#404040"/>
<circle cx="337.74" cy="85.7" r="1.8" fill="#404040"/>
<circle cx="341.17" cy="90.13" r="1.8" fill="#404040"/>
<circle cx="351.48" cy="94.99" r="1.8" fill="#404040"/>
<circle cx="368.66" cy="96.76" r="1.8" fill="#404040"/>
<circle cx="403.02" cy="97.65" r="1.8" fill="#404040"/>
<circle cx="420.2" cy="98.68" r="1.8" fill="#404040"/>
<path d="M334.64 52.68L334.99 58.58L336.02 67.42L337.74 73.32L341.17 78.33L351.48 85.26L368.66 88.36L403.02 89.24L420.2 101.63" fill="none" stroke="#ff2e2e" stroke-width="1.25" stroke-linejoin="round"/>
<circle cx="334.64" cy="52.68" r="1.8" fill="#ff2e2e"/>
<circle cx="334.99" cy="58.58" r="1.8" fill="#ff2e2e"/>
<circle cx="336.02" cy="67.42" r="1.8" fill="#ff2e2e"/>
<circle cx="337.74" cy="73.32" r="1.8" fill="#ff2e2e"/>
<circle cx="341.17" cy="78.33" r="1.8" fill="#ff2e2e"/>
<circle cx="351.48" cy="85.26" r="1.8" fill="#ff2e2e"/>
<circle cx="368.66" cy="88.36" r="1.8" fill="#ff2e2e"/>
<circle cx="403.02" cy="89.24" r="1.8" fill="#ff2e2e"/>
<circle cx="420.2" cy="101.63" r="1.8" fill="#ff2e2e"/>
<path d="M334.64 41.62L334.99 47.52L336.02 55.63L337.74 63.74L341.17 68.9L351.48 76.12L368.66 80.69L403.02 84.08L420.2 71.99" fill="none" stroke="#1d6cf0" stroke-width="1.25" stroke-linejoin="round"/>
<path d="M334.64 39.68L336.44 42.92L332.84 42.92Z" fill="#1d6cf0"/>
<path d="M334.99 45.58L336.79 48.82L333.19 48.82Z" fill="#1d6cf0"/>
<path d="M336.02 53.68L337.82 56.92L334.22 56.92Z" fill="#1d6cf0"/>
<path d="M337.74 61.79L339.54 65.03L335.94 65.03Z" fill="#1d6cf0"/>
<path d="M341.17 66.95L342.97 70.19L339.37 70.19Z" fill="#1d6cf0"/>
<path d="M351.48 74.18L353.28 77.42L349.68 77.42Z" fill="#1d6cf0"/>
<path d="M368.66 78.75L370.46 81.99L366.86 81.99Z" fill="#1d6cf0"/>
<path d="M403.02 82.14L404.82 85.38L401.22 85.38Z" fill="#1d6cf0"/>
<path d="M420.2 70.05L422 73.29L418.4 73.29Z" fill="#1d6cf0"/>
<path d="M334.64 34.99L334.99 40.89L336.02 48.26L337.74 55.63L341.17 60.79L351.48 66.83L368.66 72.29L403.02 76.56L420.2 77.01" fill="none" stroke="#25a25a" stroke-width="1.25" stroke-linejoin="round"/>
<path d="M334.64 36.93L336.44 33.69L332.84 33.69Z" fill="#25a25a"/>
<path d="M334.99 42.83L336.79 39.59L333.19 39.59Z" fill="#25a25a"/>
<path d="M336.02 50.2L337.82 46.96L334.22 46.96Z" fill="#25a25a"/>
<path d="M337.74 57.57L339.54 54.33L335.94 54.33Z" fill="#25a25a"/>
<path d="M341.17 62.73L342.97 59.49L339.37 59.49Z" fill="#25a25a"/>
<path d="M351.48 68.78L353.28 65.54L349.68 65.54Z" fill="#25a25a"/>
<path d="M368.66 74.23L370.46 70.99L366.86 70.99Z" fill="#25a25a"/>
<path d="M403.02 78.51L404.82 75.27L401.22 75.27Z" fill="#25a25a"/>
<path d="M420.2 78.95L422 75.71L418.4 75.71Z" fill="#25a25a"/>
<path d="M334.64 30.86L334.99 34.99L336.02 40.89L337.74 46.78L341.17 52.83L351.48 61.08L368.66 66.1L403.02 72.58L420.2 77.45" fill="none" stroke="#aa68e8" stroke-width="1.25" stroke-linejoin="round"/>
<path d="M334.64 29.06L336.44 30.86L334.64 32.66L332.84 30.86Z" fill="#aa68e8"/>
<path d="M334.99 33.19L336.79 34.99L334.99 36.79L333.19 34.99Z" fill="#aa68e8"/>
<path d="M336.02 39.09L337.82 40.89L336.02 42.69L334.22 40.89Z" fill="#aa68e8"/>
<path d="M337.74 44.98L339.54 46.78L337.74 48.58L335.94 46.78Z" fill="#aa68e8"/>
<path d="M341.17 51.03L342.97 52.83L341.17 54.63L339.37 52.83Z" fill="#aa68e8"/>
<path d="M351.48 59.28L353.28 61.08L351.48 62.88L349.68 61.08Z" fill="#aa68e8"/>
<path d="M368.66 64.3L370.46 66.1L368.66 67.9L366.86 66.1Z" fill="#aa68e8"/>
<path d="M403.02 70.78L404.82 72.58L403.02 74.38L401.22 72.58Z" fill="#aa68e8"/>
<path d="M420.2 75.65L422 77.45L420.2 79.25L418.4 77.45Z" fill="#aa68e8"/>
<path d="M334.64 24.37L334.99 33.51L336.02 37.94L337.74 43.24L341.17 48.26L351.48 56.22L368.66 59.76L403.02 49.29L420.2 52.53" fill="none" stroke="#d9a118" stroke-width="1.25" stroke-linejoin="round"/>
<path d="M334.64 22.57L336.44 25.57L332.84 25.57Z" fill="#d9a118"/>
<path d="M334.99 31.71L336.79 34.71L333.19 34.71Z" fill="#d9a118"/>
<path d="M336.02 36.14L337.82 39.14L334.22 39.14Z" fill="#d9a118"/>
<path d="M337.74 41.44L339.54 44.44L335.94 44.44Z" fill="#d9a118"/>
<path d="M341.17 46.46L342.97 49.46L339.37 49.46Z" fill="#d9a118"/>
<path d="M351.48 54.42L353.28 57.42L349.68 57.42Z" fill="#d9a118"/>
<path d="M368.66 57.96L370.46 60.96L366.86 60.96Z" fill="#d9a118"/>
<path d="M403.02 47.49L404.82 50.49L401.22 50.49Z" fill="#d9a118"/>
<path d="M420.2 50.73L422 53.73L418.4 53.73Z" fill="#d9a118"/>
<text x="368.5" y="19.3" font-size="7.8" font-weight="bold" textLength="30" lengthAdjust="spacingAndGlyphs">PUM-20/L</text>
<path d="M441.9 10.8V114.6H544.6" fill="none" stroke="#111" stroke-width="1.4"/>
<path d="M441.9 114.6h2.4M441.9 105.95h1.3M441.9 97.3h2.4M441.9 88.65h1.3M441.9 80h2.4M441.9 71.35h1.3M441.9 62.7h2.4M441.9 54.05h1.3M441.9 45.4h2.4M441.9 36.75h1.3M441.9 28.1h2.4M441.9 19.45h1.3M441.9 10.8h2.4M450.7 114.6v-2.4M459.22 114.6v-1.3M467.74 114.6v-2.4M476.26 114.6v-1.3M484.78 114.6v-2.4M493.3 114.6v-1.3M501.82 114.6v-2.4M510.34 114.6v-1.3M518.86 114.6v-2.4M527.38 114.6v-1.3M535.9 114.6v-2.4" fill="none" stroke="#111" stroke-width="1.4"/>
<text x="438.9" y="116.35" text-anchor="end" font-size="5.3" font-weight="bold" textLength="2.45" lengthAdjust="spacingAndGlyphs">4</text>
<text x="438.9" y="99.05" text-anchor="end" font-size="5.3" font-weight="bold" textLength="2.45" lengthAdjust="spacingAndGlyphs">5</text>
<text x="438.9" y="81.75" text-anchor="end" font-size="5.3" font-weight="bold" textLength="2.45" lengthAdjust="spacingAndGlyphs">6</text>
<text x="438.9" y="64.45" text-anchor="end" font-size="5.3" font-weight="bold" textLength="2.45" lengthAdjust="spacingAndGlyphs">7</text>
<text x="438.9" y="47.15" text-anchor="end" font-size="5.3" font-weight="bold" textLength="2.45" lengthAdjust="spacingAndGlyphs">8</text>
<text x="438.9" y="29.85" text-anchor="end" font-size="5.3" font-weight="bold" textLength="2.45" lengthAdjust="spacingAndGlyphs">9</text>
<text x="438.9" y="12.55" text-anchor="end" font-size="5.3" font-weight="bold" textLength="4.9" lengthAdjust="spacingAndGlyphs">10</text>
<text x="450.7" y="122.2" text-anchor="middle" font-size="5.3" font-weight="bold" textLength="2.45" lengthAdjust="spacingAndGlyphs">0</text>
<text x="467.74" y="122.2" text-anchor="middle" font-size="5.3" font-weight="bold" textLength="2.45" lengthAdjust="spacingAndGlyphs">5</text>
<text x="484.78" y="122.2" text-anchor="middle" font-size="5.3" font-weight="bold" textLength="4.9" lengthAdjust="spacingAndGlyphs">10</text>
<text x="501.82" y="122.2" text-anchor="middle" font-size="5.3" font-weight="bold" textLength="4.9" lengthAdjust="spacingAndGlyphs">15</text>
<text x="518.86" y="122.2" text-anchor="middle" font-size="5.3" font-weight="bold" textLength="4.9" lengthAdjust="spacingAndGlyphs">20</text>
<text x="535.9" y="122.2" text-anchor="middle" font-size="5.3" font-weight="bold" textLength="4.9" lengthAdjust="spacingAndGlyphs">25</text>
<path d="M451.04 66.68L451.38 72.91L452.4 82.08L454.11 88.48L457.52 94.7L467.74 101.11L484.78 103.87L518.86 102.84L535.9 104.22" fill="none" stroke="#404040" stroke-width="1.25" stroke-linejoin="round"/>
<circle cx="451.04" cy="66.68" r="1.8" fill="#404040"/>
<circle cx="451.38" cy="72.91" r="1.8" fill="#404040"/>
<circle cx="452.4" cy="82.08" r="1.8" fill="#404040"/>
<circle cx="454.11" cy="88.48" r="1.8" fill="#404040"/>
<circle cx="457.52" cy="94.7" r="1.8" fill="#404040"/>
<circle cx="467.74" cy="101.11" r="1.8" fill="#404040"/>
<circle cx="484.78" cy="103.87" r="1.8" fill="#404040"/>
<circle cx="518.86" cy="102.84" r="1.8" fill="#404040"/>
<circle cx="535.9" cy="104.22" r="1.8" fill="#404040"/>
<path d="M451.04 49.21L451.38 57.51L452.4 67.54L454.11 74.64L457.52 83.46L467.74 91.59L484.78 95.57L518.86 95.57L535.9 95.57" fill="none" stroke="#ff2e2e" stroke-width="1.25" stroke-linejoin="round"/>
<circle cx="451.04" cy="49.21" r="1.8" fill="#ff2e2e"/>
<circle cx="451.38" cy="57.51" r="1.8" fill="#ff2e2e"/>
<circle cx="452.4" cy="67.54" r="1.8" fill="#ff2e2e"/>
<circle cx="454.11" cy="74.64" r="1.8" fill="#ff2e2e"/>
<circle cx="457.52" cy="83.46" r="1.8" fill="#ff2e2e"/>
<circle cx="467.74" cy="91.59" r="1.8" fill="#ff2e2e"/>
<circle cx="484.78" cy="95.57" r="1.8" fill="#ff2e2e"/>
<circle cx="518.86" cy="95.57" r="1.8" fill="#ff2e2e"/>
<circle cx="535.9" cy="95.57" r="1.8" fill="#ff2e2e"/>
<path d="M451.04 37.44L451.38 47.13L452.4 55.78L454.11 63.74L457.52 72.91L467.74 83.81L484.78 89.34L518.86 98.51L535.9 96.95" fill="none" stroke="#1d6cf0" stroke-width="1.25" stroke-linejoin="round"/>
<path d="M451.04 35.5L452.84 38.74L449.24 38.74Z" fill="#1d6cf0"/>
<path d="M451.38 45.19L453.18 48.43L449.58 48.43Z" fill="#1d6cf0"/>
<path d="M452.4 53.84L454.2 57.08L450.6 57.08Z" fill="#1d6cf0"/>
<path d="M454.11 61.79L455.91 65.03L452.31 65.03Z" fill="#1d6cf0"/>
<path d="M457.52 70.96L459.32 74.2L455.72 74.2Z" fill="#1d6cf0"/>
<path d="M467.74 81.86L469.54 85.1L465.94 85.1Z" fill="#1d6cf0"/>
<path d="M484.78 87.4L486.58 90.64L482.98 90.64Z" fill="#1d6cf0"/>
<path d="M518.86 96.57L520.66 99.81L517.06 99.81Z" fill="#1d6cf0"/>
<path d="M535.9 95.01L537.7 98.25L534.1 98.25Z" fill="#1d6cf0"/>
<path d="M451.04 28.1L451.38 36.75L452.4 45.4L454.11 53.7L457.52 64.78L467.74 77.58L484.78 84.5L518.86 89.69L535.9 102.84" fill="none" stroke="#25a25a" stroke-width="1.25" stroke-linejoin="round"/>
<path d="M451.04 30.04L452.84 26.8L449.24 26.8Z" fill="#25a25a"/>
<path d="M451.38 38.69L453.18 35.45L449.58 35.45Z" fill="#25a25a"/>
<path d="M452.4 47.34L454.2 44.1L450.6 44.1Z" fill="#25a25a"/>
<path d="M454.11 55.65L455.91 52.41L452.31 52.41Z" fill="#25a25a"/>
<path d="M457.52 66.72L459.32 63.48L455.72 63.48Z" fill="#25a25a"/>
<path d="M467.74 79.52L469.54 76.28L465.94 76.28Z" fill="#25a25a"/>
<path d="M484.78 86.44L486.58 83.2L482.98 83.2Z" fill="#25a25a"/>
<path d="M518.86 91.63L520.66 88.39L517.06 88.39Z" fill="#25a25a"/>
<path d="M535.9 104.78L537.7 101.54L534.1 101.54Z" fill="#25a25a"/>
<path d="M451.04 22.56L451.38 28.27L452.4 36.75L454.11 45.23L457.52 54.4L467.74 67.02L484.78 75.16L518.86 87.09L535.9 81.21" fill="none" stroke="#aa68e8" stroke-width="1.25" stroke-linejoin="round"/>
<path d="M451.04 20.76L452.84 22.56L451.04 24.36L449.24 22.56Z" fill="#aa68e8"/>
<path d="M451.38 26.47L453.18 28.27L451.38 30.07L449.58 28.27Z" fill="#aa68e8"/>
<path d="M452.4 34.95L454.2 36.75L452.4 38.55L450.6 36.75Z" fill="#aa68e8"/>
<path d="M454.11 43.43L455.91 45.23L454.11 47.03L452.31 45.23Z" fill="#aa68e8"/>
<path d="M457.52 52.6L459.32 54.4L457.52 56.2L455.72 54.4Z" fill="#aa68e8"/>
<path d="M467.74 65.22L469.54 67.02L467.74 68.82L465.94 67.02Z" fill="#aa68e8"/>
<path d="M484.78 73.36L486.58 75.16L484.78 76.96L482.98 75.16Z" fill="#aa68e8"/>
<path d="M518.86 85.29L520.66 87.09L518.86 88.89L517.06 87.09Z" fill="#aa68e8"/>
<path d="M535.9 79.41L537.7 81.21L535.9 83.01L534.1 81.21Z" fill="#aa68e8"/>
<path d="M451.04 15.64L451.38 22.91L452.4 31.56L454.11 36.75L457.52 44.71L467.74 57.51L484.78 65.99L518.86 67.89L535.9 62.87" fill="none" stroke="#d9a118" stroke-width="1.25" stroke-linejoin="round"/>
<path d="M451.04 13.84L452.84 16.84L449.24 16.84Z" fill="#d9a118"/>
<path d="M451.38 21.11L453.18 24.11L449.58 24.11Z" fill="#d9a118"/>
<path d="M452.4 29.76L454.2 32.76L450.6 32.76Z" fill="#d9a118"/>
<path d="M454.11 34.95L455.91 37.95L452.31 37.95Z" fill="#d9a118"/>
<path d="M457.52 42.91L459.32 45.91L455.72 45.91Z" fill="#d9a118"/>
<path d="M467.74 55.71L469.54 58.71L465.94 58.71Z" fill="#d9a118"/>
<path d="M484.78 64.19L486.58 67.19L482.98 67.19Z" fill="#d9a118"/>
<path d="M518.86 66.09L520.66 69.09L517.06 69.09Z" fill="#d9a118"/>
<path d="M535.9 61.07L537.7 64.07L534.1 64.07Z" fill="#d9a118"/>
<text x="483.8" y="19.4" font-size="7.8" font-weight="bold" textLength="30" lengthAdjust="spacingAndGlyphs">PUM-16/L</text>
<path d="M326.2 142.5V245.3H429" fill="none" stroke="#111" stroke-width="1.4"/>
<path d="M326.2 245.3h2.4M326.2 236.73h1.3M326.2 228.17h2.4M326.2 219.6h1.3M326.2 211.03h2.4M326.2 202.47h1.3M326.2 193.9h2.4M326.2 185.33h1.3M326.2 176.77h2.4M326.2 168.2h1.3M326.2 159.63h2.4M326.2 151.07h1.3M326.2 142.5h2.4M334.4 245.3v-2.4M342.97 245.3v-1.3M351.54 245.3v-2.4M360.11 245.3v-1.3M368.68 245.3v-2.4M377.25 245.3v-1.3M385.82 245.3v-2.4M394.39 245.3v-1.3M402.96 245.3v-2.4M411.53 245.3v-1.3M420.1 245.3v-2.4" fill="none" stroke="#111" stroke-width="1.4"/>
<text x="323.2" y="247.05" text-anchor="end" font-size="5.3" font-weight="bold" textLength="2.45" lengthAdjust="spacingAndGlyphs">3</text>
<text x="323.2" y="229.92" text-anchor="end" font-size="5.3" font-weight="bold" textLength="2.45" lengthAdjust="spacingAndGlyphs">4</text>
<text x="323.2" y="212.78" text-anchor="end" font-size="5.3" font-weight="bold" textLength="2.45" lengthAdjust="spacingAndGlyphs">5</text>
<text x="323.2" y="195.65" text-anchor="end" font-size="5.3" font-weight="bold" textLength="2.45" lengthAdjust="spacingAndGlyphs">6</text>
<text x="323.2" y="178.52" text-anchor="end" font-size="5.3" font-weight="bold" textLength="2.45" lengthAdjust="spacingAndGlyphs">7</text>
<text x="323.2" y="161.38" text-anchor="end" font-size="5.3" font-weight="bold" textLength="2.45" lengthAdjust="spacingAndGlyphs">8</text>
<text x="323.2" y="144.25" text-anchor="end" font-size="5.3" font-weight="bold" textLength="2.45" lengthAdjust="spacingAndGlyphs">9</text>
<text x="334.4" y="252.9" text-anchor="middle" font-size="5.3" font-weight="bold" textLength="2.45" lengthAdjust="spacingAndGlyphs">0</text>
<text x="351.54" y="252.9" text-anchor="middle" font-size="5.3" font-weight="bold" textLength="2.45" lengthAdjust="spacingAndGlyphs">5</text>
<text x="368.68" y="252.9" text-anchor="middle" font-size="5.3" font-weight="bold" textLength="4.9" lengthAdjust="spacingAndGlyphs">10</text>
<text x="385.82" y="252.9" text-anchor="middle" font-size="5.3" font-weight="bold" textLength="4.9" lengthAdjust="spacingAndGlyphs">15</text>
<text x="402.96" y="252.9" text-anchor="middle" font-size="5.3" font-weight="bold" textLength="4.9" lengthAdjust="spacingAndGlyphs">20</text>
<text x="420.1" y="252.9" text-anchor="middle" font-size="5.3" font-weight="bold" textLength="4.9" lengthAdjust="spacingAndGlyphs">25</text>
<path d="M334.74 190.82L335.09 196.13L336.11 203.32L337.83 210.35L341.26 214.97L351.54 220.46L368.68 222.34L402.96 223.03L420.1 223.03" fill="none" stroke="#404040" stroke-width="1.25" stroke-linejoin="round"/>
<circle cx="334.74" cy="190.82" r="1.8" fill="#404040"/>
<circle cx="335.09" cy="196.13" r="1.8" fill="#404040"/>
<circle cx="336.11" cy="203.32" r="1.8" fill="#404040"/>
<circle cx="337.83" cy="210.35" r="1.8" fill="#404040"/>
<circle cx="341.26" cy="214.97" r="1.8" fill="#404040"/>
<circle cx="351.54" cy="220.46" r="1.8" fill="#404040"/>
<circle cx="368.68" cy="222.34" r="1.8" fill="#404040"/>
<circle cx="402.96" cy="223.03" r="1.8" fill="#404040"/>
<circle cx="420.1" cy="223.03" r="1.8" fill="#404040"/>
<path d="M334.74 181.91L335.09 187.22L336.11 192.53L337.83 199.73L341.26 207.78L351.54 214.46L368.68 213.09L402.96 211.2L420.1 212.92" fill="none" stroke="#ff2e2e" stroke-width="1.25" stroke-linejoin="round"/>
<circle cx="334.74" cy="181.91" r="1.8" fill="#ff2e2e"/>
<circle cx="335.09" cy="187.22" r="1.8" fill="#ff2e2e"/>
<circle cx="336.11" cy="192.53" r="1.8" fill="#ff2e2e"/>
<circle cx="337.83" cy="199.73" r="1.8" fill="#ff2e2e"/>
<circle cx="341.26" cy="207.78" r="1.8" fill="#ff2e2e"/>
<circle cx="351.54" cy="214.46" r="1.8" fill="#ff2e2e"/>
<circle cx="368.68" cy="213.09" r="1.8" fill="#ff2e2e"/>
<circle cx="402.96" cy="211.2" r="1.8" fill="#ff2e2e"/>
<circle cx="420.1" cy="212.92" r="1.8" fill="#ff2e2e"/>
<path d="M334.74 173.51L335.09 177.62L336.11 183.62L337.83 190.47L341.26 198.53L351.54 206.24L368.68 209.49L402.96 212.92L420.1 233.14" fill="none" stroke="#1d6cf0" stroke-width="1.25" stroke-linejoin="round"/>
<path d="M334.74 171.57L336.54 174.81L332.94 174.81Z" fill="#1d6cf0"/>
<path d="M335.09 175.68L336.89 178.92L333.29 178.92Z" fill="#1d6cf0"/>
<path d="M336.11 181.68L337.91 184.92L334.31 184.92Z" fill="#1d6cf0"/>
<path d="M337.83 188.53L339.63 191.77L336.03 191.77Z" fill="#1d6cf0"/>
<path d="M341.26 196.58L343.06 199.82L339.46 199.82Z" fill="#1d6cf0"/>
<path d="M351.54 204.29L353.34 207.53L349.74 207.53Z" fill="#1d6cf0"/>
<path d="M368.68 207.55L370.48 210.79L366.88 210.79Z" fill="#1d6cf0"/>
<path d="M402.96 210.97L404.76 214.21L401.16 214.21Z" fill="#1d6cf0"/>
<path d="M420.1 231.19L421.9 234.43L418.3 234.43Z" fill="#1d6cf0"/>
<path d="M334.74 169.57L335.09 174.2L336.11 178.48L337.83 183.62L341.26 191.33L351.54 200.58L368.68 205.89L402.96 215.32L420.1 206.92" fill="none" stroke="#25a25a" stroke-width="1.25" stroke-linejoin="round"/>
<path d="M334.74 171.51L336.54 168.27L332.94 168.27Z" fill="#25a25a"/>
<path d="M335.09 176.14L336.89 172.9L333.29 172.9Z" fill="#25a25a"/>
<path d="M336.11 180.42L337.91 177.18L334.31 177.18Z" fill="#25a25a"/>
<path d="M337.83 185.56L339.63 182.32L336.03 182.32Z" fill="#25a25a"/>
<path d="M341.26 193.27L343.06 190.03L339.46 190.03Z" fill="#25a25a"/>
<path d="M351.54 202.53L353.34 199.29L349.74 199.29Z" fill="#25a25a"/>
<path d="M368.68 207.84L370.48 204.6L366.88 204.6Z" fill="#25a25a"/>
<path d="M402.96 217.26L404.76 214.02L401.16 214.02Z" fill="#25a25a"/>
<path d="M420.1 208.87L421.9 205.63L418.3 205.63Z" fill="#25a25a"/>
<path d="M334.74 165.63L335.09 169.91L336.11 175.05L337.83 179.34L341.26 183.62L351.54 194.41L368.68 200.24L402.96 208.63L420.1 198.01" fill="none" stroke="#aa68e8" stroke-width="1.25" stroke-linejoin="round"/>
<path d="M334.74 163.83L336.54 165.63L334.74 167.43L332.94 165.63Z" fill="#aa68e8"/>
<path d="M335.09 168.11L336.89 169.91L335.09 171.71L333.29 169.91Z" fill="#aa68e8"/>
<path d="M336.11 173.25L337.91 175.05L336.11 176.85L334.31 175.05Z" fill="#aa68e8"/>
<path d="M337.83 177.54L339.63 179.34L337.83 181.14L336.03 179.34Z" fill="#aa68e8"/>
<path d="M341.26 181.82L343.06 183.62L341.26 185.42L339.46 183.62Z" fill="#aa68e8"/>
<path d="M351.54 192.61L353.34 194.41L351.54 196.21L349.74 194.41Z" fill="#aa68e8"/>
<path d="M368.68 198.44L370.48 200.24L368.68 202.04L366.88 200.24Z" fill="#aa68e8"/>
<path d="M402.96 206.83L404.76 208.63L402.96 210.43L401.16 208.63Z" fill="#aa68e8"/>
<path d="M420.1 196.21L421.9 198.01L420.1 199.81L418.3 198.01Z" fill="#aa68e8"/>
<path d="M334.74 159.46L335.09 165.63L336.11 172.48L337.83 176.94L341.26 182.76L351.54 192.02L368.68 197.84L402.96 192.02L420.1 197.5" fill="none" stroke="#d9a118" stroke-width="1.25" stroke-linejoin="round"/>
<path d="M334.74 157.66L336.54 160.66L332.94 160.66Z" fill="#d9a118"/>
<path d="M335.09 163.83L336.89 166.83L333.29 166.83Z" fill="#d9a118"/>
<path d="M336.11 170.68L337.91 173.68L334.31 173.68Z" fill="#d9a118"/>
<path d="M337.83 175.14L339.63 178.14L336.03 178.14Z" fill="#d9a118"/>
<path d="M341.26 180.96L343.06 183.96L339.46 183.96Z" fill="#d9a118"/>
<path d="M351.54 190.22L353.34 193.22L349.74 193.22Z" fill="#d9a118"/>
<path d="M368.68 196.04L370.48 199.04L366.88 199.04Z" fill="#d9a118"/>
<path d="M402.96 190.22L404.76 193.22L401.16 193.22Z" fill="#d9a118"/>
<path d="M420.1 195.7L421.9 198.7L418.3 198.7Z" fill="#d9a118"/>
<text x="368.4" y="148.5" font-size="7.8" font-weight="bold" textLength="30" lengthAdjust="spacingAndGlyphs">PUM-13/L</text>
<text transform="translate(315.4 63.2) rotate(-90)" text-anchor="middle" font-size="7.2" font-weight="bold" textLength="60.2" lengthAdjust="spacingAndGlyphs">Phase Angle (°)</text>
<text x="335" y="133.9" font-family='"Liberation Sans", sans-serif' font-size="8.3" font-weight="bold" stroke="#111" stroke-width="0.2" textLength="78" lengthAdjust="spacingAndGlyphs">Loading Frequency (Hz)</text>
<path d="M438.8 182.6h19.4" stroke="#404040" stroke-width="1.1"/>
<circle cx="448.6" cy="182.6" r="1.5" fill="#404040"/>
<text x="460.1" y="185.5" font-size="8.0" font-weight="bold" textLength="12.0" lengthAdjust="spacingAndGlyphs">5 °C</text>
<path d="M438.8 195.7h19.4" stroke="#ff2e2e" stroke-width="1.1"/>
<circle cx="448.6" cy="195.7" r="1.5" fill="#ff2e2e"/>
<text x="460.1" y="198.6" font-size="8.0" font-weight="bold" textLength="16.0" lengthAdjust="spacingAndGlyphs">15 °C</text>
<path d="M438.8 208.8h19.4" stroke="#1d6cf0" stroke-width="1.1"/>
<path d="M448.6 207.18L450.1 209.88L447.1 209.88Z" fill="#1d6cf0"/>
<text x="460.1" y="211.7" font-size="8.0" font-weight="bold" textLength="16.0" lengthAdjust="spacingAndGlyphs">25 °C</text>
<path d="M496.7 182.6h19.4" stroke="#25a25a" stroke-width="1.1"/>
<path d="M506.5 184.22L508 181.52L505 181.52Z" fill="#25a25a"/>
<text x="518" y="185.5" font-size="8.0" font-weight="bold" textLength="15.7" lengthAdjust="spacingAndGlyphs">35 °C</text>
<path d="M496.7 195.7h19.4" stroke="#aa68e8" stroke-width="1.1"/>
<path d="M506.5 194.2L508 195.7L506.5 197.2L505 195.7Z" fill="#aa68e8"/>
<text x="518" y="198.6" font-size="8.0" font-weight="bold" textLength="15.7" lengthAdjust="spacingAndGlyphs">45 °C</text>
<path d="M496.7 208.8h19.4" stroke="#d9a118" stroke-width="1.1"/>
<path d="M506.5 207.3L508 209.8L505 209.8Z" fill="#d9a118"/>
<text x="518" y="211.7" font-size="8.0" font-weight="bold" textLength="15.7" lengthAdjust="spacingAndGlyphs">55 °C</text>
<text x="422.4" y="275.2" font-size="15">(<tspan stroke="#111" stroke-width="0.45">d</tspan>)</text>
</svg></body></html>
